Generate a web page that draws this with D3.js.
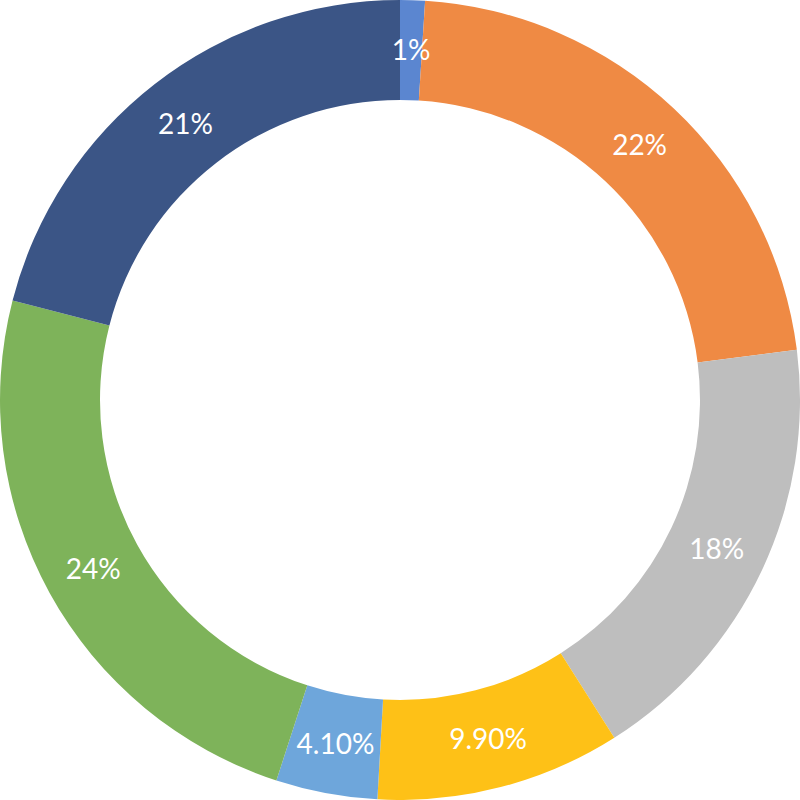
<!DOCTYPE html>
<html>
<head>
<meta charset="utf-8">
<script src="https://cdn.jsdelivr.net/npm/d3@7"></script>
<style>
  body { margin: 0; background: #fff; }
</style>
</head>
<body>
<script>
const width = 800;
const height = 800;

// slice values in percent, clockwise from 12 o'clock
const labels = ["1%", "22%", "18%", "9.90%", "4.10%", "24%", "21%"];
const values = [1, 22, 18, 9.9, 4.1, 24, 21];
const colors = ["#5B86D0", "#EF8A44", "#BEBEBE", "#FEC117", "#6EA6DB", "#7EB35A", "#3B5586"];

const outerR = 400;
const innerR = 300;

const svg = d3.select("body").append("svg")
  .attr("width", width)
  .attr("height", height);

const g = svg.append("g")
  .attr("transform", `translate(${width / 2},${height / 2})`);

const pie = d3.pie().sort(null).value(d => d);
const arcs = pie(values);

const arc = d3.arc().innerRadius(innerR).outerRadius(outerR);

g.selectAll("path")
  .data(arcs)
  .enter().append("path")
    .attr("d", arc)
    .attr("fill", (d, i) => colors[i]);

g.selectAll("text")
  .data(arcs)
  .enter().append("text")
    .attr("transform", d => `translate(${arc.centroid(d)})`)
    .attr("text-anchor", "middle")
    .attr("dy", "0.36em")
    .attr("fill", "#fff")
    .style("font-family", "Lato, 'Open Sans', sans-serif")
    .style("font-size", "28px")
    .text((d, i) => labels[i]);
</script>
</body>
</html>
